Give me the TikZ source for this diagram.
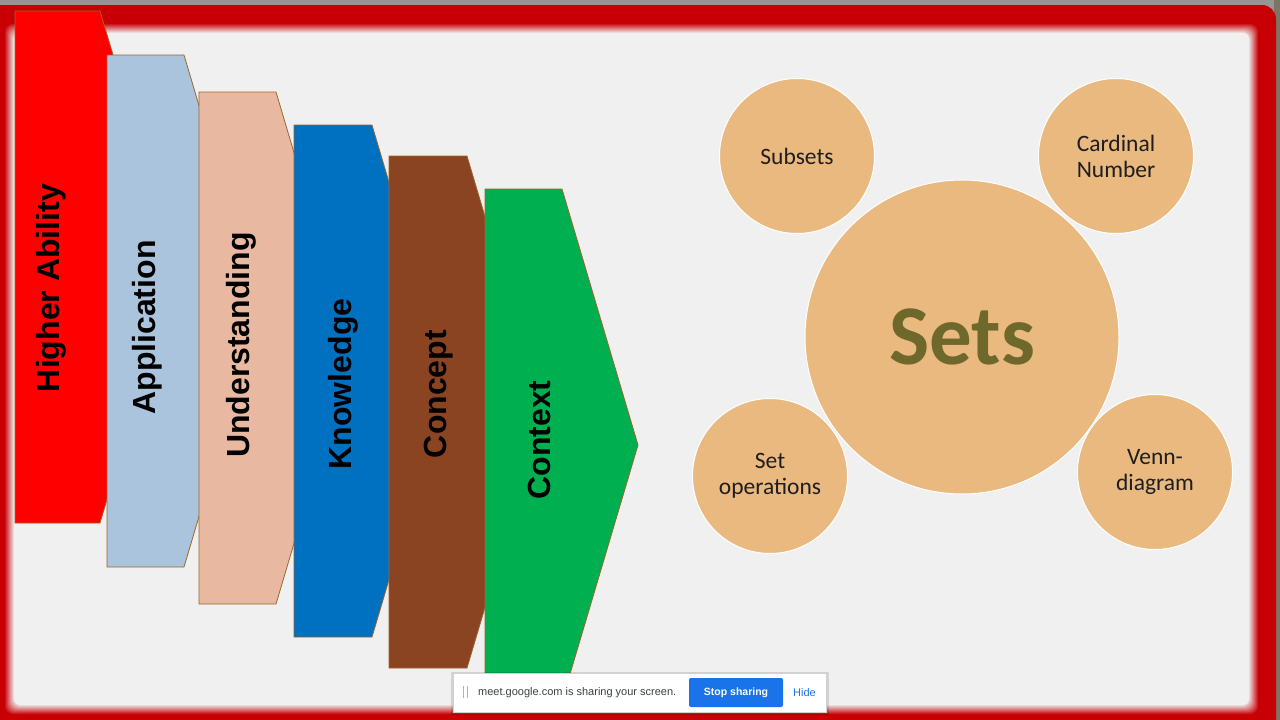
\documentclass[tikz,border=0pt]{standalone}
\usepackage{fontspec}
\setmainfont{Liberation Sans}
\newfontfamily\calfont{Carlito}
\definecolor{bgc}{RGB}{240,240,240}
\definecolor{framered}{RGB}{200,0,6}
\definecolor{framegray}{RGB}{150,150,150}
\definecolor{stripc}{RGB}{125,116,102}
\definecolor{stageedge}{RGB}{160,100,42}
\definecolor{cRed}{RGB}{255,0,0}
\definecolor{cLBlue}{RGB}{169,196,220}
\definecolor{cBeige}{RGB}{232,185,160}
\definecolor{cBlue}{RGB}{0,112,192}
\definecolor{cBrown}{RGB}{139,68,34}
\definecolor{cGreen}{RGB}{0,176,80}
\definecolor{bubblefill}{RGB}{233,185,127}
\definecolor{setsolive}{RGB}{110,104,42}
\definecolor{textdark}{RGB}{30,30,30}
\definecolor{gblue}{RGB}{26,115,232}
\definecolor{ggray}{RGB}{60,64,67}
\newcommand\stagepoly[4]{%
  \fill[#4] (#1,#2) -- ++(#3,0) -- ++(76,256) -- ++(-76,256) -- ++(-#3,0) -- cycle;
  \draw[stageedge, line width=0.8pt] (#1,#2) -- ++(#3,0) -- ++(76,256) -- ++(-76,256) -- ++(-#3,0) -- cycle;}
\begin{document}
\begin{tikzpicture}[x=1pt,y=-1pt,
  stagelabel/.style={rotate=90, font=\fontsize{32}{38}\selectfont\bfseries, text=black, inner sep=0pt},
  bubble/.style={circle, fill=bubblefill, draw=white, line width=1pt, inner sep=0pt},
  bubbletext/.style={font=\calfont\fontsize{23.5}{26}\selectfont, align=center, text=textdark},
  bartext/.style={font=\fontsize{11}{13}\selectfont, inner sep=0pt}]
\useasboundingbox (0,0) rectangle (1280,720);
% ---- frame ----
\fill[framegray] (0,0) rectangle (1280,720);
\fill[stripc] (1274,0) rectangle (1280,720);
\fill[framered, rounded corners=14] (-20,5) rectangle (1276,740);
\foreach \i in {0,...,9}{
  \pgfmathsetmacro\p{100-10*\i}
  \fill[color=framered!\p!bgc, rounded corners=8] (4+\i,23+\i) rectangle (1259-\i,715-\i);
}
\fill[bgc, rounded corners=6] (14,33) rectangle (1249,705);
% ---- stages ----
\stagepoly{15}{11}{85}{cRed}
\stagepoly{107}{55}{77}{cLBlue}
\stagepoly{199}{92}{77}{cBeige}
\stagepoly{294}{125}{78}{cBlue}
\stagepoly{389}{156}{78}{cBrown}
\stagepoly{485}{189}{77}{cGreen}
\node[stagelabel] (higher) at (51.5,288) {Higher Ability};
\node[stagelabel] (appl) at (147,327.5) {Application};
\node[stagelabel] (under) at (241,345) {Understanding};
\node[stagelabel] (know) at (343.5,384) {Knowledge};
\node[stagelabel] (conc) at (439,394) {Concept};
\node[stagelabel] (cont) at (539,440) {Context};
% ---- bubbles ----
\node[bubble, minimum size=314pt, font=\calfont\bfseries\fontsize{85}{90}\selectfont, text=setsolive] (sets) at (962,337) {Sets};
\node[bubble, minimum size=155pt, bubbletext] (subsets) at (797,156) {Subsets};
\node[bubble, minimum size=155pt, bubbletext] (cardinal) at (1116,156) {Cardinal\\Number};
\node[bubble, minimum size=155pt, bubbletext] (setops) at (770,476) {Set\\operations};
\node[bubble, minimum size=155pt, bubbletext] (venn) at (1155,472) {Venn-\\diagram};
% ---- sharing bar ----
\fill[black, opacity=0.12] (451,672) rectangle (829,715);
\fill[white] (453,673) rectangle (826,712);
\draw[black!18, line width=0.6pt] (453,673) rectangle (826,712);
\draw[black!30, line width=1pt] (463,686) -- (463,698) (467,686) -- (467,698);
\node[bartext, anchor=west, text=ggray] (msg) at (478,692.5) {meet.google.com is sharing your screen.};
\node[fill=gblue, rounded corners=2pt, minimum width=94pt, minimum height=29pt, inner sep=0pt,
      text=white, font=\fontsize{10.5}{12}\selectfont\bfseries] (stop) at (736,692.5) {Stop sharing};
\node[bartext, text=gblue, anchor=west] (hide) at (793,692.5) {Hide};
\end{tikzpicture}
\end{document}
